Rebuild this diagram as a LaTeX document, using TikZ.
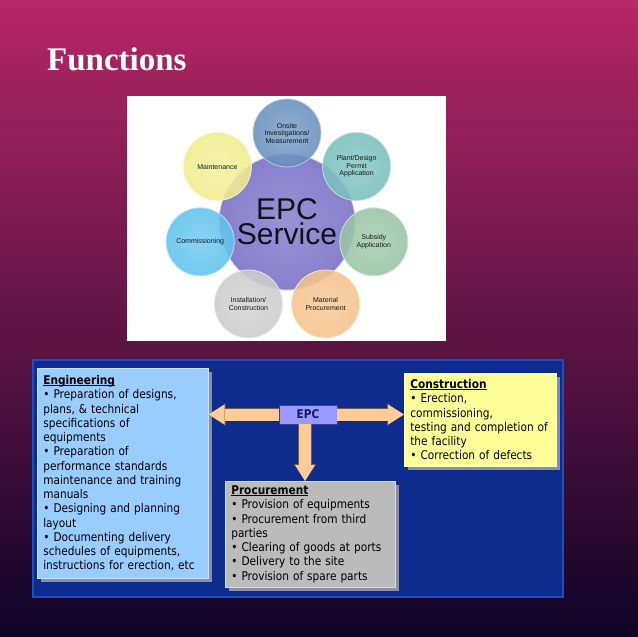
\documentclass[tikz,border=0pt]{standalone}
\usepackage{fontspec}
\setmainfont{Liberation Serif}
\newfontfamily\slidesans{Liberation Sans}
\newfontfamily\boxsans{DejaVu Sans}[FakeStretch=0.88]
\usetikzlibrary{arrows.meta,shadows,positioning}
\definecolor{SlideTop}{HTML}{B62765}
\definecolor{SlideMid}{HTML}{4C1749}
\definecolor{SlideBottom}{HTML}{0E0426}
\definecolor{PanelBlue}{HTML}{0D2C8E}
\definecolor{PanelEdge}{HTML}{1D4CC4}
\definecolor{EngFill}{HTML}{99CCFF}
\definecolor{ConFill}{HTML}{FFFF99}
\definecolor{ProFill}{HTML}{BBBBBB}
\definecolor{BoxShadow}{HTML}{8C8CA4}
\definecolor{EpcFill}{HTML}{9999FF}
\definecolor{EpcEdge}{HTML}{3A3AA0}
\definecolor{EpcText}{HTML}{1A1A5E}
\definecolor{ArrowPeach}{HTML}{FFCC99}
\definecolor{ArrowEdge}{HTML}{6E5C4C}
\definecolor{HubPurple}{HTML}{776EC6}
\definecolor{OnsiteBlue}{HTML}{6890BD}
\definecolor{PermitTeal}{HTML}{78BFBD}
\definecolor{SubsidySage}{HTML}{98C4A3}
\definecolor{MaterialPeach}{HTML}{F5C28A}
\definecolor{InstallGray}{HTML}{CDCDCD}
\definecolor{CommissionSky}{HTML}{5EC3EE}
\definecolor{MaintainYellow}{HTML}{F0EE8C}
\newcommand\boxhead[1]{\setbox0\hbox{\bfseries #1}\rlap{\rule[-1.6pt]{\wd0}{0.8pt}}\box0}
\tikzset{
  >=Latex,
  hubdisc/.style={circle,minimum size=136pt,inner sep=0pt,draw=white!70!HubPurple,line width=0.8pt,
    shade,inner color=HubPurple!85!white,outer color=HubPurple,fill opacity=0.88,
    font=\slidesans\fontsize{30}{25}\selectfont,align=center},
  taskdisc/.style={circle,minimum size=68pt,inner sep=0pt,draw=white!55!#1,line width=0.8pt,
    shade,inner color=#1!82!white,outer color=#1,fill opacity=0.88,
    font=\slidesans\fontsize{7}{7.5}\selectfont,align=center},
  infobox/.style={anchor=north west,draw=white!45!#1,fill=#1,line width=0.6pt,align=left,
    inner xsep=6pt,inner ysep=4pt,font=\boxsans\fontsize{12}{14.25}\selectfont,
    drop shadow={shadow xshift=4pt,shadow yshift=-4pt,fill=BoxShadow,opacity=1}},
  epcbox/.style={draw=EpcEdge,fill=EpcFill,line width=0.8pt,minimum width=58pt,minimum height=19pt,
    inner sep=0pt,text=EpcText,font=\boxsans\bfseries\fontsize{12}{14}\selectfont},
  blockflow/.style={line width=12pt,draw=ArrowPeach,-{Triangle[length=16pt,width=20pt,line width=0pt]},
    preaction={draw=ArrowEdge,line width=13.4pt,-{Triangle[length=17pt,width=22.5pt,line width=0pt]}}},
  panelframe/.style={fill=PanelBlue,draw=PanelEdge,line width=2pt}
}

\begin{document}
\begin{tikzpicture}[x=1pt,y=-1pt]
  \useasboundingbox (0,0) rectangle (638,637);
  \shade[top color=SlideTop,middle color=SlideMid,bottom color=SlideBottom] (0,0) rectangle (638,637);
  \node[anchor=base west,text=white,font=\bfseries\fontsize{33}{40}\selectfont,inner sep=0pt] (title) at (47,70) {Functions};

  % service wheel
  \fill[white] (127,96) rectangle (446,341);
  \node[hubdisc] (hub) at (287,222) {EPC\\Service};
  \node[taskdisc=OnsiteBlue] (onsite) at (287,133) {Onsite\\Investigations/\\Measurement};
  \node[taskdisc=PermitTeal] (permit) at (356.6,166.5) {Plant/Design\\Permit\\Application};
  \node[taskdisc=SubsidySage] (subsidy) at (373.8,241.8) {Subsidy\\Application};
  \node[taskdisc=MaterialPeach] (material) at (325.6,304) {Material\\Procurement};
  \node[taskdisc=InstallGray] (install) at (248.4,304) {Installation/\\Construction};
  \node[taskdisc=CommissionSky] (commission) at (200.2,241.8) {Commissioning};
  \node[taskdisc=MaintainYellow] (maintain) at (217.4,166.5) {Maintenance};

  % EPC breakdown
  \draw[panelframe] (33,360) rectangle (563,597);
  \node[infobox=EngFill,text width=159pt,minimum height=210pt] (engineering) at (37,368)
    {\boxhead{Engineering}\\
     • Preparation of designs,\\
     plans, \& technical\\
     specifications of\\
     equipments\\
     • Preparation of\\
     performance standards\\
     maintenance and training\\
     manuals\\
     • Designing and planning\\
     layout\\
     • Documenting delivery\\
     schedules of equipments,\\
     instructions for erection, etc};
  \node[infobox=ConFill,text width=140pt,minimum height=93pt] (construction) at (404,373)
    {\boxhead{Construction}\\
     • Erection,\\
     commissioning,\\
     testing and completion of\\
     the facility\\
     • Correction of defects};
  \node[infobox=ProFill,text width=158pt,minimum height=106pt] (procurement) at (225,481)
    {\boxhead{Procurement}\\
     • Provision of equipments\\
     • Procurement from third\\
     parties\\
     • Clearing of goods at ports\\
     • Delivery to the site\\
     • Provision of spare parts};
  \node[epcbox] (epc) at (308,414.5) {EPC};

  \draw[blockflow] (epc.west) -- (epc.west -| engineering.east);
  \draw[blockflow] (epc.east) -- (epc.east -| construction.west);
  \draw[blockflow] ([xshift=-3pt]epc.south) -- ([xshift=-3pt]epc.south |- procurement.north);

\end{tikzpicture}
\end{document}
